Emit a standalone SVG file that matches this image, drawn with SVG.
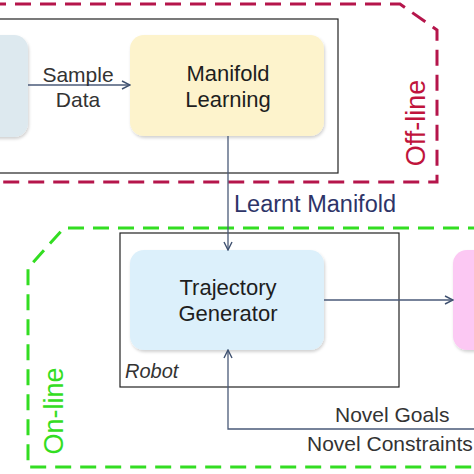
<svg xmlns="http://www.w3.org/2000/svg" width="474" height="474" viewBox="0 0 474 474">
<defs>
<marker id="arr" viewBox="0 0 10 10" refX="9" refY="5" markerWidth="10" markerHeight="10" markerUnits="userSpaceOnUse" orient="auto">
<path d="M1,1 L9,5 L1,9" fill="none" stroke="#3f5170" stroke-width="1.4"/>
</marker>
<filter id="sh" x="-10%" y="-10%" width="130%" height="130%">
<feDropShadow dx="1" dy="2" stdDeviation="1.5" flood-color="#000" flood-opacity="0.18"/>
</filter>
<style>
.t{font-family:"Liberation Sans",Arial,sans-serif;fill:#1e1e1e;text-anchor:middle}
.c{fill:none;stroke:#4a5a78;stroke-width:1.3}
.frame{fill:none;stroke:#222;stroke-width:1.2}
</style>
</defs>
<rect width="474" height="474" fill="#fff"/>
<g id="offline">
<path d="M-10,4 L400,4 L437,30 L437,182 L-10,182" fill="none" stroke="#b5154b" stroke-width="3" stroke-dasharray="16,9"/>
<text x="0" y="0" transform="translate(425,123) rotate(-90)" class="t" style="fill:#c0143c;font-size:27px">Off-line</text>
</g>
<g id="online">
<path d="M484,228 L64,228 L28,268 L28,467 L484,467" fill="none" stroke="#33dd22" stroke-width="3" stroke-dasharray="16,9"/>
<text x="0" y="0" transform="translate(63,411) rotate(-90)" class="t" style="fill:#33dd22;font-size:27px">On-line</text>
</g>
<g id="offline-frame"><rect x="-5" y="19" width="343" height="154" class="frame"/></g>
<g id="robot">
<rect x="120" y="233" width="279" height="154" class="frame"/>
<text x="125" y="378" class="t" style="text-anchor:start;font-style:italic;font-size:20px;fill:#333">Robot</text>
</g>
<g id="source"><rect x="-20" y="35" width="48" height="102" rx="14" fill="#dde9ef" filter="url(#sh)"/></g>
<g id="manifold-learning">
<rect x="130" y="35" width="194" height="101" rx="14" fill="#fdf3cc" filter="url(#sh)"/>
<text x="228" y="81" class="t" style="font-size:22px">Manifold</text>
<text x="228" y="107" class="t" style="font-size:22px">Learning</text>
</g>
<g id="trajectory-generator">
<rect x="130" y="250" width="194" height="100" rx="14" fill="#dcf0fb" filter="url(#sh)"/>
<text x="228" y="295" class="t" style="font-size:22px">Trajectory</text>
<text x="228" y="321" class="t" style="font-size:22px">Generator</text>
</g>
<g id="output"><rect x="453" y="250" width="60" height="100" rx="14" fill="#fcc8f3" filter="url(#sh)"/></g>
<g id="connectors">
<line x1="28" y1="85" x2="130" y2="85" class="c" marker-end="url(#arr)"/>
<line x1="228" y1="136" x2="228" y2="250" class="c" marker-end="url(#arr)"/>
<line x1="324" y1="300" x2="453" y2="300" class="c" marker-end="url(#arr)"/>
<path d="M480,429 L228,429 L228,350" class="c" marker-end="url(#arr)"/>
<text x="78" y="82" class="t" style="font-size:21px;fill:#333">Sample</text>
<text x="78" y="107" class="t" style="font-size:21px;fill:#333">Data</text>
<text x="234" y="212" class="t" style="text-anchor:start;font-size:23.5px;fill:#2e3468">Learnt Manifold</text>
<text x="335" y="422" class="t" style="text-anchor:start;font-size:21px;fill:#333">Novel Goals</text>
<text x="307" y="451" class="t" style="text-anchor:start;font-size:21px;fill:#333">Novel Constraints</text>
</g>
</svg>
